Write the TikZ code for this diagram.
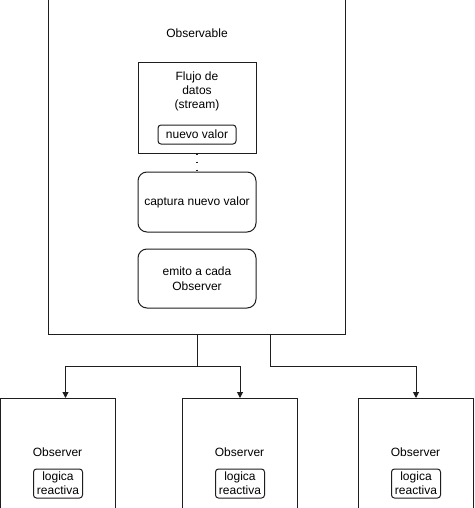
\documentclass[tikz,border=0pt]{standalone}
\usepackage{fontspec}
\setmainfont{Liberation Sans}
\usetikzlibrary{arrows.meta, positioning, calc}
\definecolor{mydark}{RGB}{30,30,30}
\tikzset{
  bigbox/.style={rectangle, draw=mydark, fill=white, line width=1pt},
  stepbox/.style={rectangle, draw=mydark, fill=white, minimum width=118pt,
    align=center, font=\fontsize{12}{14.5}\selectfont, rounded corners=9pt, line width=1pt},
  tagbox/.style={rectangle, draw=mydark, fill=white, inner sep=0pt,
    align=center, font=\fontsize{12}{14}\selectfont, rounded corners=3pt, line width=1pt},
  txt/.style={align=center, font=\fontsize{12}{14}\selectfont, inner sep=0pt},
  arrow/.style={-{Triangle[length=6pt,width=6pt]}, line width=1pt, color=mydark},
  dotline/.style={line width=1.6pt, color=mydark, dash pattern=on 1.6pt off 6.4pt}
}
\begin{document}
\begin{tikzpicture}[x=1pt, y=-1pt]
  \useasboundingbox (0,0) rectangle (474,508);
  \clip (0,0) rectangle (474,508);
  \fill[white] (0,0) rectangle (474,508);

  % Observable
  \node[bigbox, minimum width=297pt, minimum height=350pt] (obs) at (196.5,159) {};
  \node[txt] (obslbl) at (197,33) {Observable};
  \node[bigbox, minimum width=118pt, minimum height=90pt] (flujo) at (197,108) {};
  \node[txt] (flujolbl) at (197,91) {Flujo de\\datos\\(stream)};
  \node[tagbox, minimum width=78pt, minimum height=19pt] (nuevo) at (197,134.5) {nuevo valor};
  \node[stepbox, minimum height=60pt] (captura) at (197,202) {captura nuevo valor};
  \node[stepbox, minimum height=59pt] (emito) at (197,278.5) {emito a cada\\Observer};
  \draw[dotline] (flujo.south) -- (captura.north);

  % Observers
  \foreach \n/\x in {obsA/57.5, obsB/239.5, obsC/415.5}{
    \node[bigbox, minimum width=115pt, minimum height=130pt] (\n) at (\x,463) {};
    \node[txt] (\n lbl) at (\x,452) {Observer};
    \node[tagbox, minimum width=49pt, minimum height=29pt] (\n tag) at (\x+0.5,483.5) {logica\\reactiva};
  }

  % connectors
  \coordinate (s1) at (197,334);
  \coordinate (s2) at (270,334);
  \coordinate (tA) at (65.5,398);
  \coordinate (tB) at (240,398);
  \coordinate (tC) at (416,398);
  \draw[arrow] (s1) |- ($(tA)+(0,-32)$) -- (tA);
  \draw[arrow] (s1) |- ($(tB)+(0,-32)$) -- (tB);
  \draw[arrow] (s2) |- ($(tC)+(0,-32)$) -- (tC);
\end{tikzpicture}
\end{document}
